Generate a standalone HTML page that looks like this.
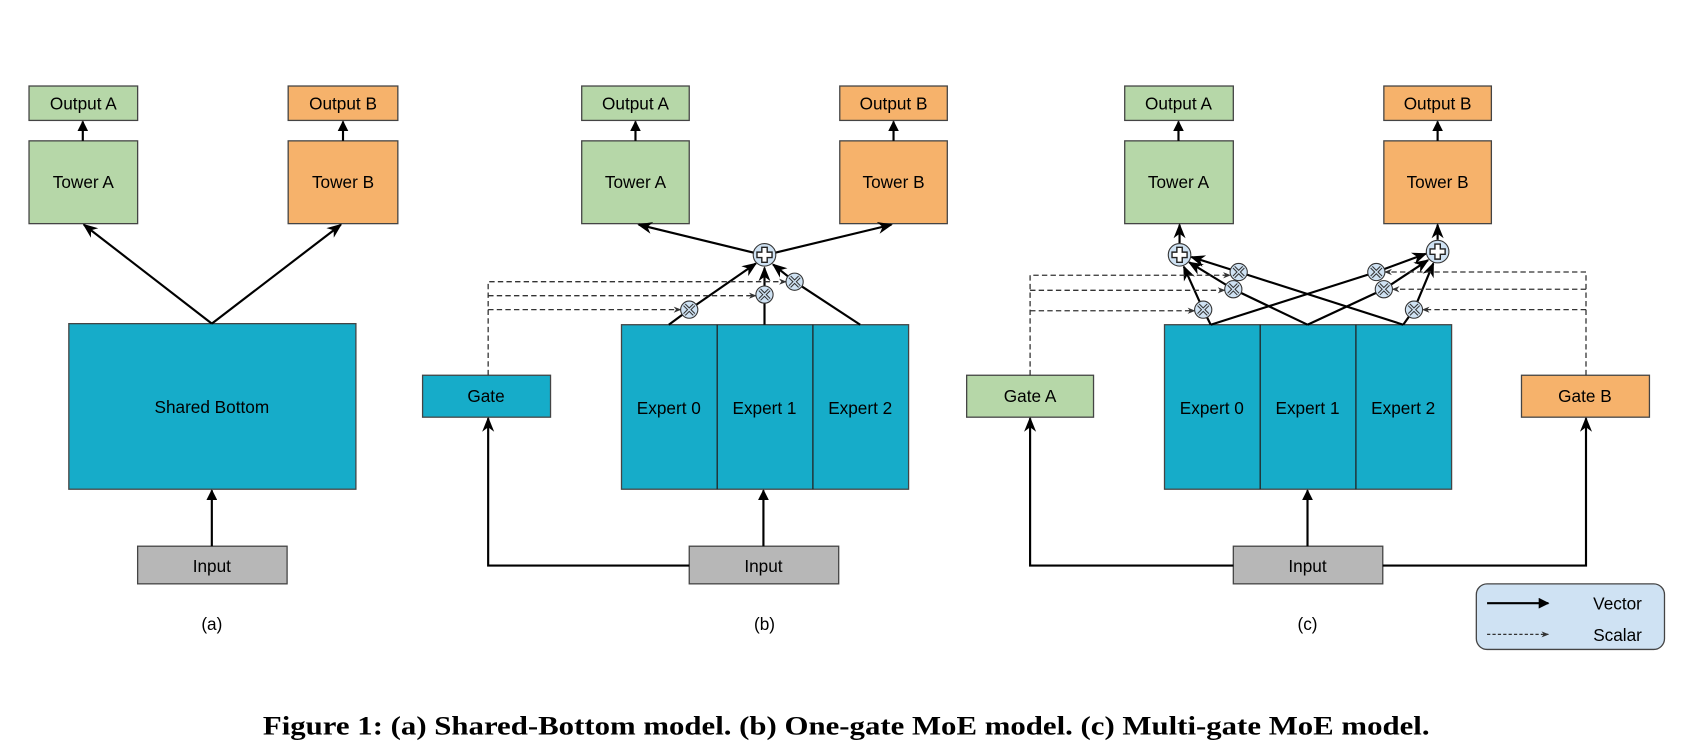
<!DOCTYPE html>
<html><head><meta charset="utf-8"><style>
html,body{margin:0;padding:0;background:#fff;}
svg{display:block;}
text{font-family:"Liberation Sans",sans-serif;}
</style></head><body>
<svg width="1686" height="752" viewBox="0 0 1568 699.4" preserveAspectRatio="none" xmlns="http://www.w3.org/2000/svg">
<defs>
<marker id="f" viewBox="0 0 10 10" refX="9" refY="5" markerWidth="5" markerHeight="5" orient="auto"><path d="M0,0 L10,5 L0,10 z" fill="#000"/></marker>
<marker id="o" viewBox="0 0 10 10" refX="9" refY="5" markerWidth="7" markerHeight="7" orient="auto"><path d="M0,1 L10,5 L0,9 L3,5 z" fill="#000"/></marker>
<marker id="d" viewBox="0 0 10 10" refX="9" refY="5" markerWidth="6" markerHeight="6" orient="auto"><path d="M0,1 L10,5 L0,9 L3,5 z" fill="#333"/></marker>
<g id="x"><circle r="8" fill="#cfe2f3" stroke="#333" stroke-width="1"/><path d="M-4.5,-4.5 L4.5,4.5 M4.5,-4.5 L-4.5,4.5" stroke="#333" stroke-width="3.2"/><path d="M-4.5,-4.5 L4.5,4.5 M4.5,-4.5 L-4.5,4.5" stroke="#cfe2f3" stroke-width="1.3"/></g>
<g id="p"><circle r="10.5" fill="#cfe2f3" stroke="#333" stroke-width="1"/><path d="M-2.5,-7 H2.5 V-2.5 H7 V2.5 H2.5 V7 H-2.5 V2.5 H-7 V-2.5 H-2.5 Z" fill="#fff" stroke="#222" stroke-width="1.3"/></g>
</defs>
<g stroke="#444" stroke-width="1.2" font-size="16" text-anchor="middle">
<rect x="27" y="80" width="101" height="32" fill="#b6d7a8"/>
<rect x="27" y="131" width="101" height="77" fill="#b6d7a8"/>
<rect x="268" y="80" width="102" height="32" fill="#f6b26b"/>
<rect x="268" y="131" width="102" height="77" fill="#f6b26b"/>
<rect x="64" y="301" width="267" height="154" fill="#16acc9"/>
<rect x="128" y="508" width="139" height="35" fill="#b7b7b7"/>
<rect x="541" y="80" width="100" height="32" fill="#b6d7a8"/>
<rect x="541" y="131" width="100" height="77" fill="#b6d7a8"/>
<rect x="781" y="80" width="100" height="32" fill="#f6b26b"/>
<rect x="781" y="131" width="100" height="77" fill="#f6b26b"/>
<rect x="578" y="302" width="267" height="153" fill="#16acc9"/>
<line x1="667" y1="302" x2="667" y2="455" stroke="#222"/><line x1="756" y1="302" x2="756" y2="455" stroke="#222"/>
<rect x="393" y="349" width="119" height="39" fill="#16acc9"/>
<rect x="641" y="508" width="139" height="35" fill="#b7b7b7"/>
<rect x="1046" y="80" width="101" height="32" fill="#b6d7a8"/>
<rect x="1046" y="131" width="101" height="77" fill="#b6d7a8"/>
<rect x="1287" y="80" width="100" height="32" fill="#f6b26b"/>
<rect x="1287" y="131" width="100" height="77" fill="#f6b26b"/>
<rect x="1083" y="302" width="267" height="153" fill="#16acc9"/>
<line x1="1172" y1="302" x2="1172" y2="455" stroke="#222"/><line x1="1261" y1="302" x2="1261" y2="455" stroke="#222"/>
<rect x="899" y="349" width="118" height="39" fill="#b6d7a8"/>
<rect x="1415" y="349" width="119" height="39" fill="#f6b26b"/>
<rect x="1147" y="508" width="139" height="35" fill="#b7b7b7"/>
<rect x="1373" y="543" width="175" height="61" rx="10" fill="#cfe2f3"/>
</g>
<g font-size="16" text-anchor="middle" fill="#000">
<text x="77.5" y="102">Output A</text><text x="77.5" y="175">Tower A</text>
<text x="319" y="102">Output B</text><text x="319" y="175">Tower B</text>
<text x="197" y="384">Shared Bottom</text><text x="197" y="532">Input</text>
<text x="197" y="586">(a)</text>
<text x="591" y="102">Output A</text><text x="591" y="175">Tower A</text>
<text x="831" y="102">Output B</text><text x="831" y="175">Tower B</text>
<text x="622" y="385">Expert 0</text><text x="711" y="385">Expert 1</text><text x="800" y="385">Expert 2</text>
<text x="452" y="374">Gate</text><text x="710" y="532">Input</text>
<text x="711" y="586">(b)</text>
<text x="1096" y="102">Output A</text><text x="1096" y="175">Tower A</text>
<text x="1337" y="102">Output B</text><text x="1337" y="175">Tower B</text>
<text x="1127" y="385">Expert 0</text><text x="1216" y="385">Expert 1</text><text x="1305" y="385">Expert 2</text>
<text x="958" y="374">Gate A</text><text x="1474" y="374">Gate B</text>
<text x="1216" y="532">Input</text>
<text x="1216" y="586">(c)</text>
<text x="1527" y="567" text-anchor="end">Vector</text>
<text x="1527" y="596" text-anchor="end">Scalar</text>
</g>
<g stroke="#000" stroke-width="2" fill="none">
<line x1="77" y1="131" x2="77" y2="113" marker-end="url(#f)"/>
<line x1="319" y1="131" x2="319" y2="113" marker-end="url(#f)"/>
<line x1="197" y1="301" x2="78" y2="209" marker-end="url(#o)"/>
<line x1="197" y1="301" x2="317" y2="209" marker-end="url(#o)"/>
<line x1="197" y1="508" x2="197" y2="456" marker-end="url(#f)"/>
<line x1="591" y1="131" x2="591" y2="113" marker-end="url(#f)"/>
<line x1="831" y1="131" x2="831" y2="113" marker-end="url(#f)"/>
<line x1="701" y1="235" x2="594" y2="209" marker-end="url(#o)"/>
<line x1="721" y1="235" x2="829" y2="209" marker-end="url(#o)"/>
<polyline points="622,302 641,288"/><line x1="641" y1="288" x2="703" y2="245" marker-end="url(#o)"/>
<line x1="711" y1="302" x2="711" y2="281"/><line x1="711" y1="274" x2="711" y2="249" marker-end="url(#o)"/>
<polyline points="800,302 739,262"/><line x1="739" y1="262" x2="719" y2="246" marker-end="url(#o)"/>
<line x1="710" y1="508" x2="710" y2="456" marker-end="url(#f)"/>
<polyline points="641,526 454,526 454,389" marker-end="url(#o)"/>
<line x1="1096" y1="131" x2="1096" y2="113" marker-end="url(#f)"/>
<line x1="1337" y1="131" x2="1337" y2="113" marker-end="url(#f)"/>
<line x1="1097" y1="226" x2="1097" y2="209" marker-end="url(#o)"/>
<line x1="1337" y1="223" x2="1337" y2="209" marker-end="url(#o)"/>
<line x1="1126" y1="302" x2="1119" y2="288"/><line x1="1119" y1="288" x2="1101" y2="248" marker-end="url(#o)"/>
<line x1="1216" y1="302" x2="1147" y2="269"/><line x1="1147" y1="269" x2="1106" y2="244" marker-end="url(#o)"/>
<line x1="1305" y1="302" x2="1152" y2="253"/><line x1="1152" y1="253" x2="1108" y2="239" marker-end="url(#o)"/>
<line x1="1126" y1="302" x2="1280" y2="253"/><line x1="1280" y1="253" x2="1326" y2="236" marker-end="url(#o)"/>
<line x1="1216" y1="302" x2="1287" y2="269"/><line x1="1287" y1="269" x2="1328" y2="242" marker-end="url(#o)"/>
<line x1="1305" y1="302" x2="1315" y2="288"/><line x1="1315" y1="288" x2="1333" y2="245" marker-end="url(#o)"/>
<line x1="1216" y1="508" x2="1216" y2="456" marker-end="url(#f)"/>
<polyline points="1147,526 958,526 958,389" marker-end="url(#o)"/>
<polyline points="1286,526 1475,526 1475,389" marker-end="url(#o)"/>
<line x1="1383" y1="561" x2="1440" y2="561" marker-end="url(#f)"/>
</g>
<g stroke="#333" stroke-width="1.2" fill="none" stroke-dasharray="5,3">
<polyline points="454,349 454,262 731,262" marker-end="url(#d)"/>
<polyline points="454,275 703,275" marker-end="url(#d)"/>
<polyline points="454,288 633,288" marker-end="url(#d)"/>
<polyline points="958,349 958,256 1144,256" marker-end="url(#d)"/>
<polyline points="958,270 1139,270" marker-end="url(#d)"/>
<polyline points="958,289 1111,289" marker-end="url(#d)"/>
<polyline points="1475,349 1475,253 1288,253" marker-end="url(#d)"/>
<polyline points="1475,269 1295,269" marker-end="url(#d)"/>
<polyline points="1475,288 1323,288" marker-end="url(#d)"/>
<line x1="1383" y1="590" x2="1440" y2="590" stroke-dasharray="3,2" marker-end="url(#d)"/>
</g>
<use href="#p" x="711" y="237"/>
<use href="#x" x="641" y="288"/><use href="#x" x="711" y="274"/><use href="#x" x="739" y="262"/>
<use href="#p" x="1097" y="237"/><use href="#p" x="1337" y="234"/>
<use href="#x" x="1119" y="288"/><use href="#x" x="1147" y="269"/><use href="#x" x="1152" y="253"/>
<use href="#x" x="1280" y="253"/><use href="#x" x="1287" y="269"/><use href="#x" x="1315" y="288"/>
<text x="787" y="683" text-anchor="middle" style="font-family:'Liberation Serif',serif;font-weight:bold;font-size:25px" textLength="1085" lengthAdjust="spacingAndGlyphs">Figure 1: (a) Shared-Bottom model. (b) One-gate MoE model. (c) Multi-gate MoE model.</text>
</svg>
</body></html>
